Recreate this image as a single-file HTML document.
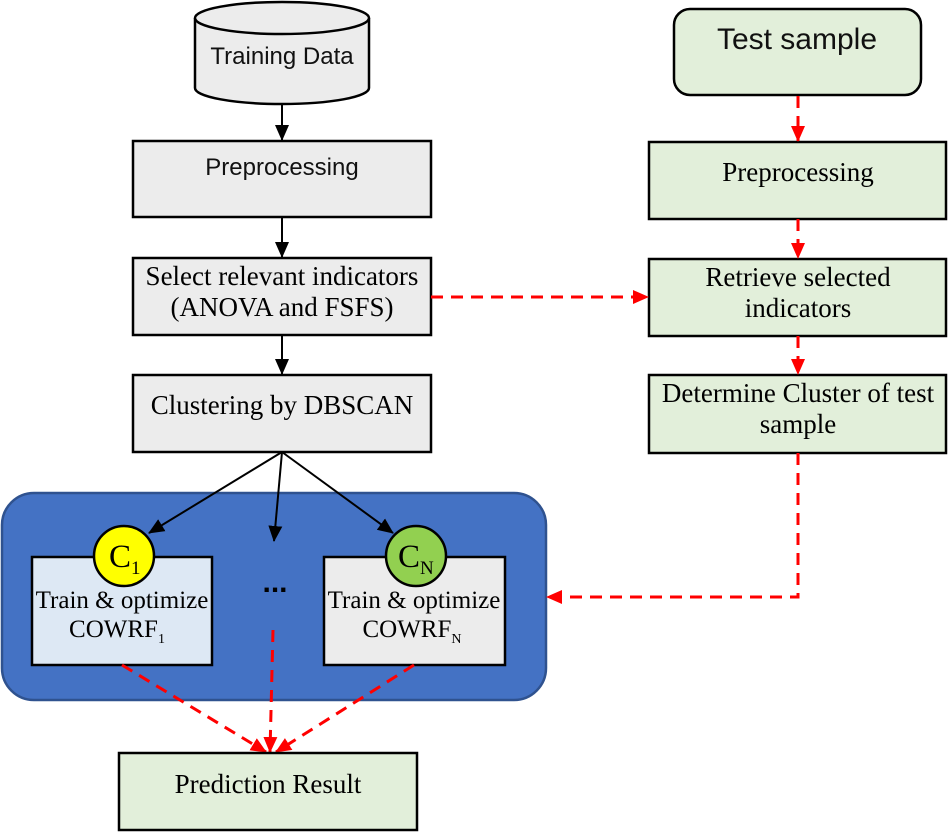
<!DOCTYPE html>
<html><head><meta charset="utf-8"><style>
body{margin:0;background:#fff}
svg{display:block}
.s{font-family:"Liberation Serif",serif;font-size:27px;fill:#000}
.t{font-family:"Liberation Serif",serif;font-size:24px;fill:#000}
.a{font-family:"Liberation Sans",sans-serif;font-size:24px;fill:#111}
</style></head><body>
<svg width="948" height="832" viewBox="0 0 948 832" xmlns="http://www.w3.org/2000/svg">
<defs>
<marker id="kb" markerWidth="16" markerHeight="16" refX="15" refY="8" orient="auto" markerUnits="userSpaceOnUse" viewBox="0 0 16 16"><path d="M0,1 L16,8 L0,15z" fill="#000"/></marker>
<marker id="r" markerWidth="16" markerHeight="16" refX="15" refY="8" orient="auto" markerUnits="userSpaceOnUse" viewBox="0 0 16 16"><path d="M0,1 L16,8 L0,15z" fill="#f00"/></marker>
</defs>
<path d="M195,18 L195,88 A87,16 0 0 0 369,88 L369,18" fill="#ececec" stroke="#000" stroke-width="2.5"/>
<ellipse cx="282" cy="18" rx="87" ry="16" fill="#ececec" stroke="#000" stroke-width="2.5"/>
<text class="a" x="282" y="64" text-anchor="middle">Training Data</text>
<line x1="282" y1="105" x2="282" y2="140" stroke="#000" stroke-width="2" marker-end="url(#kb)"/>
<rect x="133" y="141" width="298" height="76" fill="#ececec" stroke="#000" stroke-width="2.5"/>
<text class="a" x="282" y="175" text-anchor="middle">Preprocessing</text>
<line x1="282" y1="217" x2="282" y2="257" stroke="#000" stroke-width="2" marker-end="url(#kb)"/>
<rect x="133" y="258" width="298" height="77" fill="#ececec" stroke="#000" stroke-width="2.5"/>
<text class="s" x="282" y="285" text-anchor="middle">Select relevant indicators</text>
<text class="s" x="282" y="316" text-anchor="middle">(ANOVA and FSFS)</text>
<line x1="282" y1="335" x2="282" y2="374" stroke="#000" stroke-width="2" marker-end="url(#kb)"/>
<rect x="133" y="375" width="298" height="77" fill="#ececec" stroke="#000" stroke-width="2.5"/>
<text class="s" x="282" y="414" text-anchor="middle">Clustering by DBSCAN</text>
<rect x="2" y="493" width="544" height="207" rx="32" fill="#4472c4" stroke="#2f528f" stroke-width="2.5"/>
<rect x="32" y="557" width="180" height="108" fill="#dde8f4" stroke="#000" stroke-width="2.5"/>
<rect x="324" y="557" width="181" height="108" fill="#ececec" stroke="#000" stroke-width="2.5"/>
<line x1="282" y1="452" x2="149" y2="533" stroke="#000" stroke-width="2" marker-end="url(#kb)"/>
<line x1="282" y1="452" x2="274" y2="541" stroke="#000" stroke-width="2" marker-end="url(#kb)"/>
<line x1="282" y1="452" x2="393" y2="533" stroke="#000" stroke-width="2" marker-end="url(#kb)"/>
<circle cx="124" cy="556" r="30" fill="#ffff00" stroke="#000" stroke-width="2.5"/>
<text class="s" x="109" y="567" style="font-size:33px">C<tspan dy="7" style="font-size:19px">1</tspan></text>
<circle cx="416" cy="556" r="30" fill="#92d050" stroke="#000" stroke-width="2.5"/>
<text class="s" x="398" y="567" style="font-size:33px">C<tspan dy="7" style="font-size:19px">N</tspan></text>
<text class="t" x="122" y="608" text-anchor="middle" style="font-size:25px">Train &amp; optimize</text>
<text class="t" x="117" y="637" text-anchor="middle" style="font-size:25px">COWRF<tspan dy="6" style="font-size:14px">1</tspan></text>
<text class="t" x="414" y="608" text-anchor="middle" style="font-size:25px">Train &amp; optimize</text>
<text class="t" x="412" y="637" text-anchor="middle" style="font-size:25px">COWRF<tspan dy="6" style="font-size:14px">N</tspan></text>
<text x="275" y="592" text-anchor="middle" style="font-family:'Liberation Sans',sans-serif;font-size:30px;font-weight:bold">...</text>
<g stroke="#f00" stroke-width="3" stroke-dasharray="12,8" fill="none">
<line x1="122" y1="665" x2="266" y2="752" marker-end="url(#r)"/>
<line x1="273" y1="630" x2="270" y2="752" marker-end="url(#r)"/>
<line x1="414" y1="665" x2="276" y2="752" marker-end="url(#r)"/>
</g>
<rect x="119" y="753" width="298" height="77" fill="#e2efda" stroke="#000" stroke-width="2.5"/>
<text class="s" x="268" y="793" text-anchor="middle">Prediction Result</text>
<rect x="674" y="9" width="247" height="86" rx="16" fill="#e2efda" stroke="#000" stroke-width="2.5"/>
<text x="797" y="49" text-anchor="middle" style="font-family:'Liberation Sans',sans-serif;font-size:30px;fill:#111">Test sample</text>
<rect x="649" y="142" width="297" height="77" fill="#e2efda" stroke="#000" stroke-width="2.5"/>
<text class="s" x="798" y="181" text-anchor="middle">Preprocessing</text>
<rect x="649" y="259" width="297" height="77" fill="#e2efda" stroke="#000" stroke-width="2.5"/>
<text class="s" x="798" y="286" text-anchor="middle">Retrieve selected</text>
<text class="s" x="798" y="317" text-anchor="middle">indicators</text>
<rect x="649" y="375" width="297" height="78" fill="#e2efda" stroke="#000" stroke-width="2.5"/>
<text class="s" x="798" y="402" text-anchor="middle">Determine Cluster of test</text>
<text class="s" x="798" y="433" text-anchor="middle">sample</text>
<g stroke="#f00" stroke-width="3" stroke-dasharray="12,8" fill="none">
<line x1="798" y1="96" x2="798" y2="141" marker-end="url(#r)"/>
<line x1="798" y1="219" x2="798" y2="258" marker-end="url(#r)"/>
<line x1="798" y1="336" x2="798" y2="374" marker-end="url(#r)"/>
<line x1="431" y1="297" x2="648" y2="297" marker-end="url(#r)"/>
<polyline points="798,453 798,597 547,597" marker-end="url(#r)"/>
</g>
</svg>
</body></html>
